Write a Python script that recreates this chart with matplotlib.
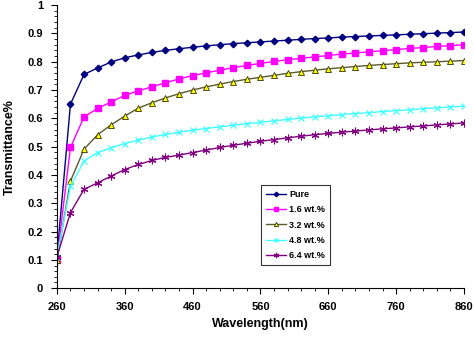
import matplotlib.pyplot as plt
from matplotlib.ticker import MultipleLocator

plt.rcParams['font.family'] = ['Liberation Sans', 'DejaVu Sans']
plt.rcParams['font.weight'] = 'bold'

wavelength = list(range(260, 861, 20))

pure = [0.11, 0.65, 0.755, 0.778, 0.799, 0.814, 0.824, 0.833, 0.840, 0.846, 0.851,
        0.856, 0.860, 0.864, 0.867, 0.870, 0.873, 0.876, 0.879, 0.882, 0.884,
        0.887, 0.889, 0.891, 0.893, 0.895, 0.897, 0.899, 0.901, 0.903, 0.905]
wt16 = [0.10, 0.497, 0.605, 0.635, 0.658, 0.681, 0.697, 0.711, 0.726, 0.739, 0.751,
        0.761, 0.770, 0.779, 0.787, 0.794, 0.801, 0.807, 0.812, 0.817, 0.822,
        0.827, 0.831, 0.835, 0.839, 0.843, 0.847, 0.850, 0.854, 0.857, 0.860]
wt32 = [0.10, 0.378, 0.491, 0.542, 0.577, 0.608, 0.636, 0.655, 0.672, 0.687, 0.700,
        0.711, 0.721, 0.730, 0.738, 0.745, 0.752, 0.759, 0.765, 0.770, 0.775,
        0.779, 0.783, 0.787, 0.790, 0.793, 0.796, 0.798, 0.800, 0.802, 0.804]
wt48 = [0.11, 0.36, 0.449, 0.479, 0.496, 0.511, 0.523, 0.534, 0.543, 0.551, 0.558,
        0.564, 0.570, 0.576, 0.581, 0.586, 0.591, 0.596, 0.601, 0.605, 0.609,
        0.613, 0.617, 0.620, 0.624, 0.627, 0.630, 0.634, 0.637, 0.640, 0.643]
wt64 = [0.11, 0.267, 0.349, 0.372, 0.396, 0.419, 0.437, 0.451, 0.462, 0.470, 0.479,
        0.488, 0.497, 0.505, 0.512, 0.519, 0.525, 0.531, 0.537, 0.542, 0.547,
        0.551, 0.555, 0.559, 0.563, 0.566, 0.570, 0.573, 0.577, 0.580, 0.584]

xticks = list(range(260, 861, 100))
yticks = [v / 10 for v in range(11)]
ylabels = ['0'] + ['%.1f' % v for v in yticks[1:-1]] + ['1']

fig = plt.figure(figsize=(4.74, 3.41), dpi=100)
ax = fig.add_axes([0.12, 0.155, 0.859, 0.83])

ax.plot(wavelength, pure, color='#000080', marker='D', markersize=3.3, lw=1.0, label='Pure')
ax.plot(wavelength, wt16, color='#ff00ff', marker='s', markersize=4.5, lw=1.0, label='1.6 wt.%')
ax.plot(wavelength, wt32, color='#5a5a2a', marker='^', markersize=4.5, lw=1.0,
        markerfacecolor='#ffff00', markeredgecolor='#333300', markeredgewidth=0.6, label='3.2 wt.%')
ax.plot(wavelength, wt48, color='#40ffff', marker='x', markersize=4.5, lw=1.0,
        markeredgewidth=0.9, label='4.8 wt.%')
ax.plot(wavelength, wt64, color='#800080', marker=(6, 2, 0), markersize=5.5, lw=1.0,
        markeredgewidth=0.8, label='6.4 wt.%')

ax.set_xlim(260, 860)
ax.set_ylim(0, 1)
ax.set_xticks(xticks)
ax.xaxis.set_minor_locator(MultipleLocator(20))
ax.set_yticks(yticks)
ax.set_yticklabels(ylabels)
ax.yaxis.set_minor_locator(MultipleLocator(0.02))

for s in ['top', 'right']:
    ax.spines[s].set_visible(False)
ax.tick_params(which='major', direction='out', length=4, labelsize=8, pad=6)
ax.tick_params(which='minor', direction='out', length=2.5)

ax.set_xlabel('Wavelength(nm)', fontsize=9, fontweight='bold')
ax.set_ylabel('Transmittance%', fontsize=9, fontweight='bold', labelpad=8)

leg = ax.legend(loc='lower left', bbox_to_anchor=(0.49, 0.065), fontsize=6.5,
                frameon=True, fancybox=False, edgecolor='black', handlelength=2.2,
                markerscale=0.7, borderpad=0.55, labelspacing=0.7, handletextpad=0.4)
leg.get_frame().set_linewidth(0.8)

fig.savefig('out.png', dpi=100)
